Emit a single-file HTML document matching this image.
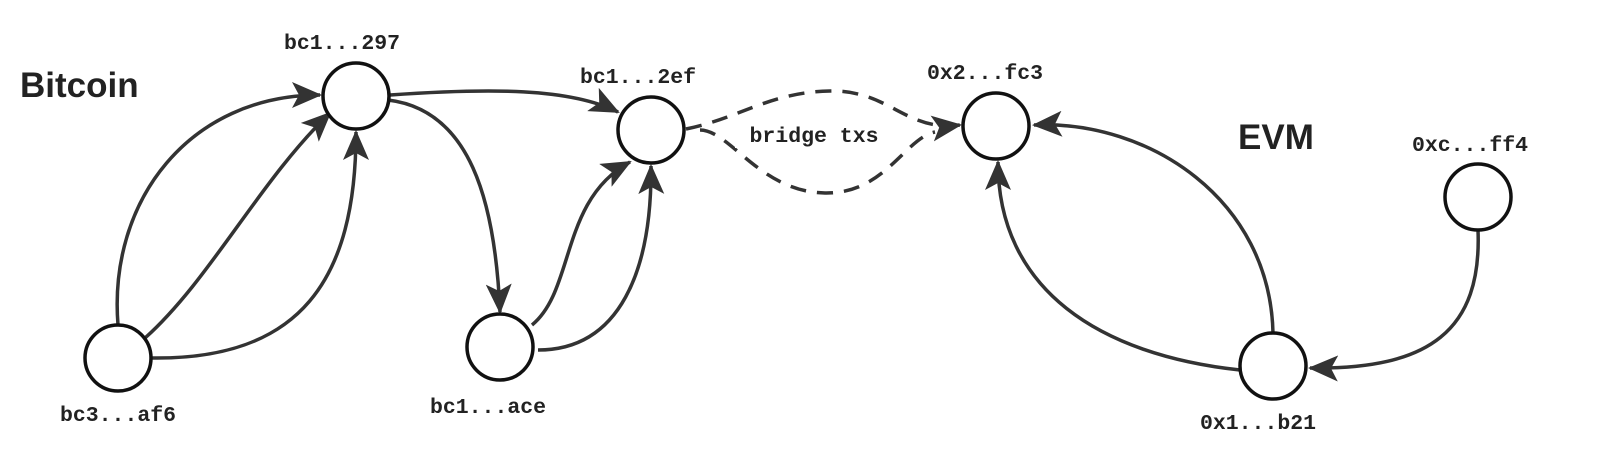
<!DOCTYPE html>
<html><head><meta charset="utf-8"><style>
html,body{margin:0;padding:0;background:#fff;}
svg{display:block;}
.t{font-family:"Liberation Mono",monospace;font-weight:bold;font-size:21.5px;fill:#222;}
.h{font-family:"Liberation Sans",sans-serif;font-weight:bold;font-size:35px;fill:#222;}
</style></head><body>
<svg width="1600" height="470" viewBox="0 0 1600 470" xmlns="http://www.w3.org/2000/svg">
<defs>
<marker id="b" viewBox="0 0 30 26" refX="28" refY="13" markerWidth="30" markerHeight="26" markerUnits="userSpaceOnUse" orient="auto">
<path d="M0,0 L30,13 L0,26 L7,13 Z" fill="#333"/>
</marker>
</defs>
<g fill="none" stroke="#333" stroke-width="3.5">
<path d="M118,325 C108,200 190,95 320,95" marker-end="url(#b)"/>
<path d="M145,338 C210,280 260,180 330,113" marker-end="url(#b)"/>
<path d="M152,358 C300,360 356,280 356,132" marker-end="url(#b)"/>
<path d="M390,95 C490,88 570,88 618,112" marker-end="url(#b)"/>
<path d="M388,100 C470,110 495,200 500,312" marker-end="url(#b)"/>
<path d="M532,325 C575,290 560,200 630,162" marker-end="url(#b)"/>
<path d="M538,350 C620,350 652,270 651,166" marker-end="url(#b)"/>
<path d="M1273,333 C1270,200 1150,120 1034,125" marker-end="url(#b)"/>
<path d="M1240,370 C1100,355 998,290 998,162" marker-end="url(#b)"/>
<path d="M1478,230 C1482,330 1430,370 1310,368" marker-end="url(#b)"/>
<g stroke-dasharray="16,11">
<path d="M686,129 C740,118 770,92 830,91 C890,90 905,132 960,125" marker-end="url(#b)"/>
<path d="M700,130 C730,130 760,192 825,193 C885,194 905,138 935,132"/>
</g>
</g>
<g fill="#fff" stroke="#111" stroke-width="3.5">
<circle cx="356" cy="96" r="33"/>
<circle cx="651" cy="130" r="33"/>
<circle cx="500" cy="347" r="33"/>
<circle cx="118" cy="358" r="33"/>
<circle cx="996" cy="126" r="33"/>
<circle cx="1478" cy="197" r="33"/>
<circle cx="1273" cy="366" r="33"/>
</g>
<rect x="735" y="120" width="160" height="28" fill="#fff"/>
<text class="t" x="814" y="142" text-anchor="middle">bridge txs</text>
<text class="h" x="20" y="97">Bitcoin</text>
<text class="h" x="1238" y="149">EVM</text>
<text class="t" x="342" y="49" text-anchor="middle">bc1...297</text>
<text class="t" x="638" y="83" text-anchor="middle">bc1...2ef</text>
<text class="t" x="985" y="79" text-anchor="middle">0x2...fc3</text>
<text class="t" x="1470" y="151" text-anchor="middle">0xc...ff4</text>
<text class="t" x="118" y="421" text-anchor="middle">bc3...af6</text>
<text class="t" x="488" y="413" text-anchor="middle">bc1...ace</text>
<text class="t" x="1258" y="429" text-anchor="middle">0x1...b21</text>
</svg>
</body></html>
